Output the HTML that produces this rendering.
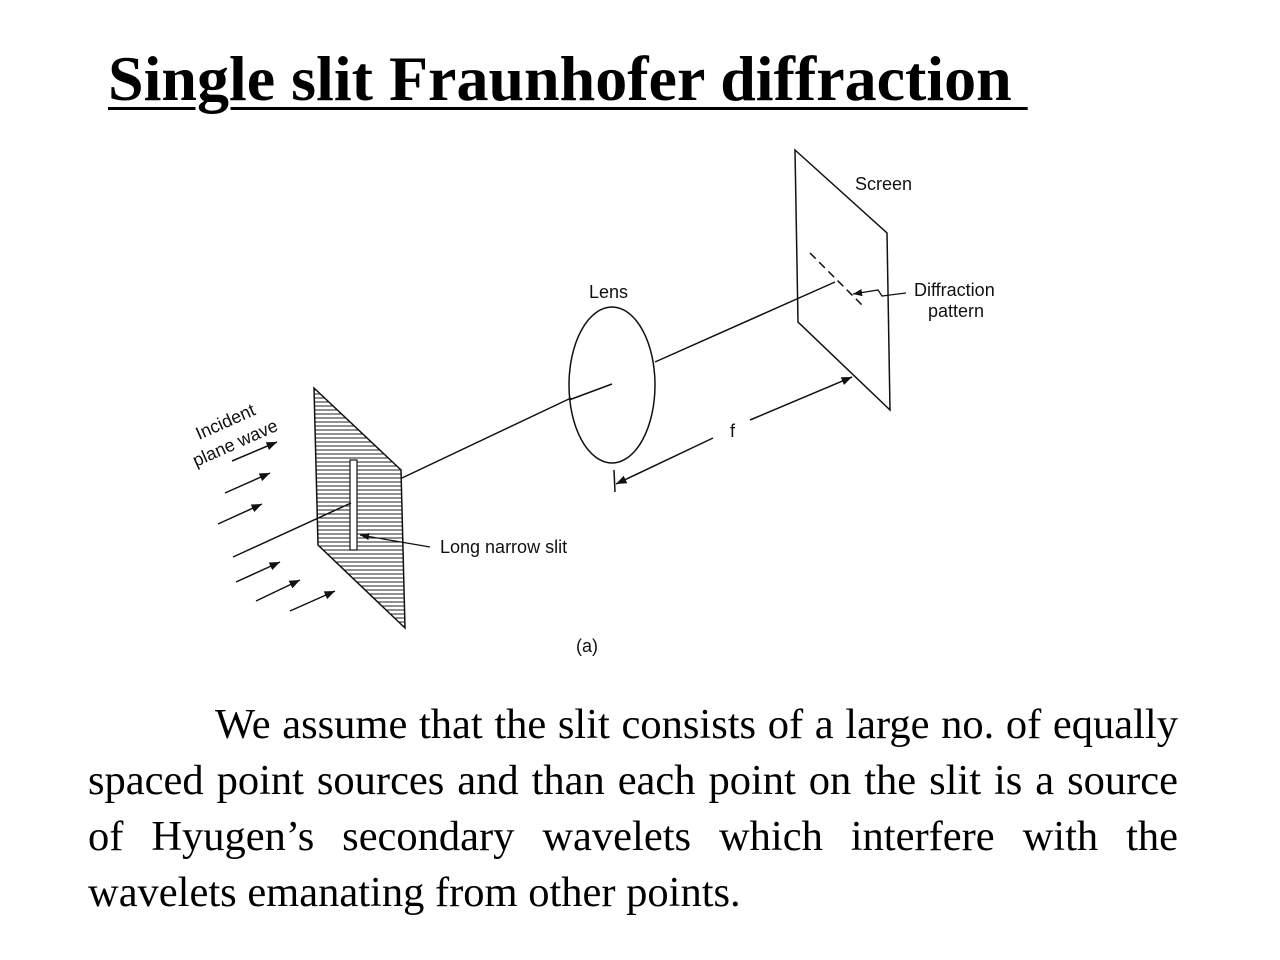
<!DOCTYPE html>
<html><head><meta charset="utf-8"><style>
body{margin:0;width:1280px;height:960px;background:#fff;position:relative;overflow:hidden;font-family:"Liberation Serif",serif;}
.t{position:absolute;left:108px;top:42px;font-weight:bold;font-size:64px;text-decoration:underline;text-decoration-thickness:3px;text-underline-offset:7px;white-space:pre;color:#000;}
.l{position:absolute;font-size:42.5px;line-height:44px;white-space:nowrap;color:#000;}
.j{text-align:justify;text-align-last:justify;}
svg{position:absolute;left:0;top:0}
svg text{font-family:"Liberation Sans",sans-serif;fill:#111}
</style></head><body>
<div class="t">Single slit Fraunhofer diffraction </div>
<svg width="1280" height="960" viewBox="0 0 1280 960">
<defs>
<marker id="a" viewBox="0 0 10 10" refX="10" refY="5" markerWidth="7" markerHeight="7" orient="auto"><path d="M0,1 L10,5 L0,9 z" fill="#111"/></marker>
<pattern id="h" width="6" height="4" patternUnits="userSpaceOnUse"><line x1="0" y1="2" x2="6" y2="2" stroke="#222" stroke-width="1"/></pattern>
</defs>
<g stroke="#111" stroke-width="1.5" fill="none">
<polygon points="314,388 401,470 405,628 318,545" fill="url(#h)"/>
<rect x="350" y="460" width="7" height="90" fill="#fff" stroke="#111" stroke-width="1.2"/>
<line x1="233" y1="557" x2="351" y2="503"/>
<line x1="402" y1="478" x2="571" y2="398"/>
<line x1="569" y1="400" x2="612" y2="384"/>
<ellipse cx="612" cy="385" rx="43" ry="78"/>
<line x1="655" y1="362" x2="835" y2="282"/>
<polygon points="795,150 887,233 890,410 798,322" fill="none"/>
<line x1="810" y1="253" x2="862" y2="305" stroke-dasharray="8,5"/>
<polyline points="906,293 882,296 878,290 853,294" marker-end="url(#a)" stroke-width="1.3"/>
<line x1="750" y1="420" x2="852" y2="377" marker-end="url(#a)"/>
<line x1="713" y1="438" x2="616" y2="484" marker-end="url(#a)"/>
<line x1="614" y1="470" x2="615" y2="492"/>
<line x1="232" y1="461" x2="277" y2="442" marker-end="url(#a)"/>
<line x1="225" y1="493" x2="270" y2="473" marker-end="url(#a)"/>
<line x1="218" y1="524" x2="262" y2="504" marker-end="url(#a)"/>
<line x1="236" y1="582" x2="280" y2="562" marker-end="url(#a)"/>
<line x1="256" y1="601" x2="300" y2="580" marker-end="url(#a)"/>
<line x1="290" y1="611" x2="335" y2="591" marker-end="url(#a)"/>
<polyline points="430,547 395,541 360,535" marker-end="url(#a)" stroke-width="1.3"/>
</g>
<text x="855" y="190" font-size="18">Screen</text>
<text x="589" y="298" font-size="18">Lens</text>
<text x="914" y="296" font-size="18">Diffraction</text>
<text x="928" y="317" font-size="18">pattern</text>
<text x="730" y="437" font-size="18">f</text>
<text x="440" y="553" font-size="18">Long narrow slit</text>
<text x="576" y="652" font-size="18">(a)</text>
<text transform="translate(199,440) rotate(-24)" font-size="18">Incident</text>
<text transform="translate(196,467) rotate(-24)" font-size="18">plane wave</text>
</svg>
<div class="l j" style="left:215px;top:703px;width:963px">We assume that the slit consists of a large no. of equally</div>
<div class="l j" style="left:88px;top:759px;width:1090px">spaced point sources and than each point on the slit is a source</div>
<div class="l j" style="left:88px;top:815px;width:1090px">of Hyugen’s secondary wavelets which interfere with the</div>
<div class="l" style="left:88px;top:871px">wavelets emanating from other points.</div>
</body></html>
